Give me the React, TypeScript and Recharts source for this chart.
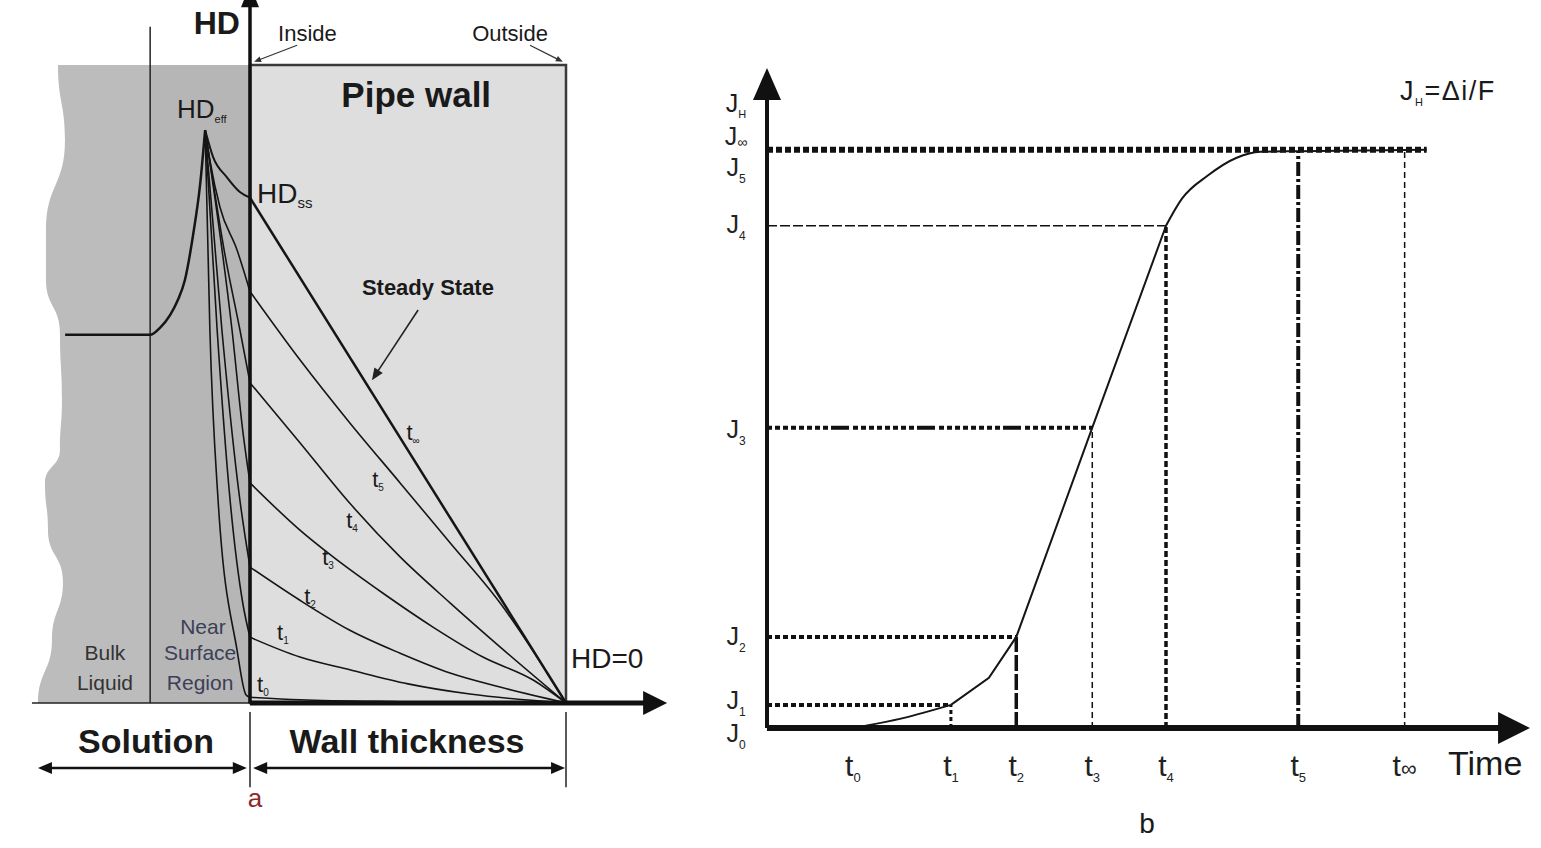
import React from 'react';
import { LineChart, Line, XAxis, YAxis, ReferenceLine, ReferenceArea, ReferenceDot } from 'recharts';

const FONT = '"Liberation Sans", Arial, Helvetica, sans-serif';

// ---------- panel a : HD profile, x = depth (0 inside, 10 outside), y = HD ----------
const bulkProfile = [
  { x: -5.85, y: 57.7 }, { x: -3.16, y: 57.7 }, { x: -2.85, y: 58.8 }, { x: -2.53, y: 60.8 },
  { x: -2.28, y: 63.2 }, { x: -2.06, y: 66.3 }, { x: -1.8, y: 73.4 }, { x: -1.58, y: 81.2 },
  { x: -1.42, y: 89.8 },
];
const steadyNear = [
  { x: -1.42, y: 89.8 }, { x: -1.17, y: 85.6 }, { x: -0.73, y: 82.4 }, { x: -0.32, y: 80.1 }, { x: 0, y: 79.2 },
];
const steadyWall = [{ x: 0, y: 79.2 }, { x: 10, y: 0 }];

const nearT0 = [{ x: -1.42, y: 89.8 }, { x: -1.27, y: 58.5 }, { x: -1.01, y: 31.8 }, { x: -0.41, y: 8.3 }, { x: -0.13, y: 1.3 }, { x: 0, y: 0.9 }];
const nearT1 = [{ x: -1.42, y: 89.8 }, { x: -1.04, y: 58.5 }, { x: -0.63, y: 31.8 }, { x: -0.22, y: 15.4 }, { x: 0, y: 10.3 }];
const nearT2 = [{ x: -1.42, y: 89.8 }, { x: -0.89, y: 58.5 }, { x: -0.32, y: 31.8 }, { x: 0, y: 21.3 }];
const nearT3 = [{ x: -1.42, y: 89.8 }, { x: -0.57, y: 58.5 }, { x: -0.22, y: 42.3 }, { x: 0, y: 34.5 }];
const nearT4 = [{ x: -1.42, y: 89.8 }, { x: -0.79, y: 70.2 }, { x: -0.32, y: 58.5 }, { x: 0, y: 50.2 }];
const nearT5 = [{ x: -1.42, y: 89.8 }, { x: -1.27, y: 85.1 }, { x: -0.95, y: 77.7 }, { x: -0.41, y: 71.0 }, { x: 0, y: 64.5 }];

const wallT0 = [{ x: 0, y: 0.9 }, { x: 1.58, y: 0.5 }, { x: 4.75, y: 0.2 }, { x: 10, y: 0 }];
const wallT1 = [{ x: 0, y: 10.3 }, { x: 1.58, y: 7.2 }, { x: 3.16, y: 5.2 }, { x: 5.0, y: 3.0 }, { x: 6.96, y: 1.4 }, { x: 10, y: 0 }];
const wallT2 = [{ x: 0, y: 21.3 }, { x: 1.58, y: 16.1 }, { x: 3.16, y: 11.4 }, { x: 4.75, y: 7.8 }, { x: 6.33, y: 4.7 }, { x: 7.91, y: 2.5 }, { x: 10, y: 0 }];
const wallT3 = [{ x: 0, y: 34.5 }, { x: 1.58, y: 27.1 }, { x: 2.63, y: 22.9 }, { x: 4.21, y: 17.2 }, { x: 5.79, y: 11.9 }, { x: 7.37, y: 7.2 }, { x: 8.96, y: 3.6 }, { x: 10, y: 0 }];
const wallT4 = [{ x: 0, y: 50.2 }, { x: 1.58, y: 40.8 }, { x: 3.16, y: 31.3 }, { x: 4.75, y: 22.9 }, { x: 6.33, y: 15.7 }, { x: 7.91, y: 8.8 }, { x: 10, y: 0 }];
const wallT5 = [{ x: 0, y: 64.5 }, { x: 1.58, y: 53.8 }, { x: 3.16, y: 43.9 }, { x: 4.75, y: 34.5 }, { x: 6.33, y: 25.1 }, { x: 7.91, y: 15.7 }, { x: 10, y: 0 }];

const nearCurves = [nearT0, nearT1, nearT2, nearT3, nearT4, nearT5];
const wallCurves = [wallT0, wallT1, wallT2, wallT3, wallT4, wallT5];

const profileLabels = ['∞', '5', '4', '3', '2', '1', '0'];
const profileLabelPos = [
  { x: 5.16, y: 41.2 }, { x: 4.05, y: 33.9 }, { x: 3.23, y: 27.4 }, { x: 2.47, y: 21.6 },
  { x: 1.9, y: 15.5 }, { x: 1.04, y: 9.9 }, { x: 0.41, y: 1.7 },
];

// ---------- panel b : permeation flux vs time ----------
const timeNames = ['0', '1', '2', '3', '4', '5', '∞'];
const timeTicks = [11.3, 24.2, 32.8, 42.8, 52.5, 69.9, 83.9];
const fluxNames = ['0', '1', '2', '3', '4', '5', '∞'];
const fluxLevels = [0, 3.5, 13.8, 45.5, 76.1, 87.4, 87.6];
// start of the transient (t0 -> t1)
const fluxOnset = [{ t: 11.3, j: 0 }, { t: 17.9, j: 1.5 }, { t: 24.2, j: 3.5 }];
// near-linear rise (t1 -> t4)
const fluxRamp = [{ t: 24.2, j: 3.5 }, { t: 29.2, j: 7.6 }, { t: 32.8, j: 13.8 }, { t: 42.8, j: 45.5 }, { t: 52.5, j: 76.1 }];
// approach to steady state (t4 -> end)
const fluxPlateau = [
  { t: 52.5, j: 76.1 }, { t: 54.6, j: 80.2 }, { t: 58.0, j: 83.7 }, { t: 61.8, j: 86.4 },
  { t: 64.9, j: 87.3 }, { t: 69.9, j: 87.4 }, { t: 86.8, j: 87.6 },
];
const curveEnd = 86.8;

// guide line styles (index matches timeTicks / fluxLevels)
const hGuide = [null,
  { w: 4, d: '5 3' }, { w: 4, d: '5 3' }, { w: 4, d: '5 3 5 3 5 3 5 3 5 3 5 3 5 3 5 3 18 4' },
  { w: 1.5, d: '10 3' }, null, { w: 6, d: '6 3' }];
const vGuide = [null,
  { w: 3, d: '4 3' }, { w: 3.5, d: '16 3' }, { w: 1.5, d: '6 4' },
  { w: 3.5, d: '6 3' }, { w: 4, d: '14 3 3 3' }, { w: 1.5, d: '6 4' }];
const fluxLabelShift = [14, 4, 8, 10, 7, 25, -5];

// ---------- helpers ----------
const arrowShape = (len: number, half: number, both = false) => (p: any) => {
  const { x1, y1, x2, y2, stroke, strokeWidth } = p;
  const dx = x2 - x1, dy = y2 - y1;
  const L = Math.hypot(dx, dy) || 1;
  const ux = dx / L, uy = dy / L, nx = -uy, ny = ux;
  const head = (tx: number, ty: number, dir: number) => {
    const bx = tx - dir * ux * len, by = ty - dir * uy * len;
    return `${tx},${ty} ${bx + nx * half},${by + ny * half} ${bx - nx * half},${by - ny * half}`;
  };
  const sx = both ? x1 + ux * len * 0.7 : x1, sy = both ? y1 + uy * len * 0.7 : y1;
  return (
    <g>
      <line x1={sx} y1={sy} x2={x2 - ux * len * 0.7} y2={y2 - uy * len * 0.7} stroke={stroke} strokeWidth={strokeWidth} />
      <polygon points={head(x2, y2, 1)} fill={stroke} />
      {both && <polygon points={head(x1, y1, -1)} fill={stroke} />}
    </g>
  );
};

const note = (key: string, x: number, y: number, content: React.ReactNode, opts: any = {}) => (
  <ReferenceDot
    key={key}
    x={x}
    y={y}
    r={0}
    ifOverflow="visible"
    shape={(p: any) => (
      <text x={p.cx} y={p.cy} textAnchor={opts.anchor || 'start'} fontFamily={FONT}
        fontSize={opts.size || 22} fontWeight={opts.bold ? 'bold' : 'normal'} fill={opts.fill || '#1a1a1a'}
        letterSpacing={opts.spacing || 0}>
        {content}
      </text>
    )}
  />
);

const sub = (main: string, s: string, size: number, dy: number) => (
  <>
    <tspan>{main}</tspan>
    <tspan fontSize={size} dy={dy}>{s}</tspan>
  </>
);

const edgeWave = [[0, 26], [0.118, 33], [0.259, 14], [0.337, 14], [0.42, 28], [0.525, 30], [0.603, 28],
  [0.655, 13], [0.729, 16], [0.81, 31], [0.901, 20], [1, 6]];

const WavyRect = (p: any) => {
  const { x, y, width, height, fill } = p;
  const pts = edgeWave.map(([f, o]) => [x + o, y + f * height]);
  let d = `M${x + width},${y} L${pts[0][0]},${pts[0][1]}`;
  for (let i = 1; i < pts.length; i++) {
    const [px, py] = pts[i - 1];
    const [cx, cy] = pts[i];
    const my = (py + cy) / 2;
    d += ` C${px},${my} ${cx},${my} ${cx},${cy}`;
  }
  d += ` L${x + width},${y + height} Z`;
  return <path d={d} fill={fill} />;
};

const JTick = (p: any) => {
  const i = fluxLevels.indexOf(p.payload.value);
  return (
    <text x={p.x - 31} y={p.y + fluxLabelShift[i]} textAnchor="middle" fontFamily={FONT} fontSize={25} fill="#222">
      J<tspan fontSize={i === 6 ? 14 : 12} dy={i === 6 ? 2 : 7}>{fluxNames[i]}</tspan>
    </text>
  );
};

const TTick = (p: any) => {
  const i = timeTicks.indexOf(p.payload.value);
  return (
    <text x={p.x} y={p.y + 48} textAnchor="middle" fontFamily={FONT} fontSize={30} fill="#222">
      t<tspan fontSize={i === 6 ? 22 : 13} dy={i === 6 ? 0 : 6}>{timeNames[i]}</tspan>
    </text>
  );
};

const lineProps = { dataKey: 'y', type: 'monotone' as const, stroke: '#151515', dot: false, isAnimationActive: false };
const fluxProps = { dataKey: 'j', stroke: '#151515', strokeWidth: 2, dot: false, isAnimationActive: false };

function ProfilePanel() {
  return (
    <LineChart width={700} height={848} margin={{ top: 1.2, right: 23.4, bottom: 145, left: 28.8 }}>
      <XAxis type="number" dataKey="x" domain={[-7, 13.5]} hide height={0} allowDataOverflow />
      <YAxis type="number" domain={[0, 110]} hide width={0} allowDataOverflow />

      <ReferenceArea x1={-6.9} x2={-3.16} y1={0} y2={100} fill="#bcbcbc" fillOpacity={1} shape={WavyRect} ifOverflow="visible" />
      <ReferenceArea x1={-3.16} x2={0} y1={0} y2={100} fill="#b6b6b6" fillOpacity={1} ifOverflow="visible" />
      <ReferenceArea x1={0} x2={10} y1={0} y2={100} fill="#dedede" fillOpacity={1} stroke="#3a3a3a" strokeWidth={2.5} ifOverflow="visible" />

      <ReferenceLine segment={[{ x: -3.16, y: 0 }, { x: -3.16, y: 106 }]} stroke="#222" strokeWidth={1.5} ifOverflow="visible" />
      <ReferenceLine segment={[{ x: -6.9, y: 0 }, { x: 0, y: 0 }]} stroke="#222" strokeWidth={1.5} ifOverflow="visible" />

      <Line data={bulkProfile} {...lineProps} strokeWidth={2.5} />
      <Line data={steadyNear} {...lineProps} strokeWidth={2} />
      <Line data={steadyWall} {...lineProps} type="linear" strokeWidth={2.5} />
      {nearCurves.map((c, i) => <Line key={'n' + i} data={c} {...lineProps} strokeWidth={1.6} />)}
      {wallCurves.map((c, i) => <Line key={'w' + i} data={c} {...lineProps} strokeWidth={1.6} />)}

      <ReferenceLine segment={[{ x: 0, y: 0 }, { x: 13.2, y: 0 }]} stroke="#111" strokeWidth={5} shape={arrowShape(24, 12)} ifOverflow="visible" />
      <ReferenceLine segment={[{ x: 0, y: 0 }, { x: 0, y: 112.5 }]} stroke="#111" strokeWidth={3.5} shape={arrowShape(22, 9)} ifOverflow="visible" />
      <ReferenceLine segment={[{ x: 1.49, y: 103.1 }, { x: 0.13, y: 100.5 }]} stroke="#333" strokeWidth={1.2} shape={arrowShape(7, 3)} ifOverflow="visible" />
      <ReferenceLine segment={[{ x: 8.86, y: 103.1 }, { x: 9.9, y: 100.5 }]} stroke="#333" strokeWidth={1.2} shape={arrowShape(7, 3)} ifOverflow="visible" />
      <ReferenceLine segment={[{ x: 5.32, y: 61.6 }, { x: 3.86, y: 50.6 }]} stroke="#222" strokeWidth={1.6} shape={arrowShape(12, 5)} ifOverflow="visible" />
      <ReferenceLine segment={[{ x: -6.71, y: -10.2 }, { x: -0.1, y: -10.2 }]} stroke="#111" strokeWidth={2.5} shape={arrowShape(14, 6, true)} ifOverflow="visible" />
      <ReferenceLine segment={[{ x: 0.1, y: -10.2 }, { x: 9.97, y: -10.2 }]} stroke="#111" strokeWidth={2.5} shape={arrowShape(14, 6, true)} ifOverflow="visible" />
      <ReferenceLine segment={[{ x: 0, y: -1.4 }, { x: 0, y: -13.2 }]} stroke="#222" strokeWidth={1.5} ifOverflow="visible" />
      <ReferenceLine segment={[{ x: 10, y: -1.4 }, { x: 10, y: -13.2 }]} stroke="#222" strokeWidth={1.5} ifOverflow="visible" />

      {note('hd', -0.32, 104.9, 'HD', { anchor: 'end', size: 32, bold: true })}
      {note('in', 0.89, 103.8, 'Inside', { size: 22 })}
      {note('out', 7.03, 103.8, 'Outside', { size: 22 })}
      {note('pw', 5.26, 93.4, 'Pipe wall', { anchor: 'middle', size: 35, bold: true })}
      {note('eff', -2.31, 91.7, sub('HD', 'eff', 11, 5), { size: 26 })}
      {note('ss', 0.22, 78.4, sub('HD', 'ss', 15, 5), { size: 28 })}
      {note('st', 5.63, 64.0, 'Steady State', { anchor: 'middle', size: 22, bold: true })}
      {profileLabels.map((l, i) => note('pl' + i, profileLabelPos[i].x, profileLabelPos[i].y,
        sub('t', l, 10, 4), { anchor: 'middle', size: 22 }))}
      {note('b1', -4.59, 6.74, 'Bulk', { anchor: 'middle', size: 21, fill: '#333' })}
      {note('b2', -4.59, 2.04, 'Liquid', { anchor: 'middle', size: 21, fill: '#333' })}
      {note('n1', -1.49, 10.8, 'Near', { anchor: 'middle', size: 21, fill: '#3b4056' })}
      {note('n2', -1.58, 6.74, 'Surface', { anchor: 'middle', size: 21, fill: '#3b4056' })}
      {note('n3', -1.58, 2.04, 'Region', { anchor: 'middle', size: 21, fill: '#3b4056' })}
      {note('hd0', 10.16, 5.5, 'HD=0', { size: 28 })}
      {note('sol', -3.29, -7.84, 'Solution', { anchor: 'middle', size: 34, bold: true })}
      {note('wt', 4.97, -7.84, 'Wall thickness', { anchor: 'middle', size: 34, bold: true })}
      {note('a', 0.16, -16.3, 'a', { anchor: 'middle', size: 26, fill: '#8b2a2a' })}
    </LineChart>
  );
}

function FluxPanel() {
  return (
    <LineChart width={841} height={848} margin={{ top: 68, right: 14, bottom: 60, left: 7 }}>
      <XAxis type="number" dataKey="t" domain={[0, 100]} ticks={timeTicks} interval={0} height={60}
        axisLine={false} tickLine={false} tickSize={0} tickMargin={0} tick={TTick} allowDataOverflow />
      <YAxis type="number" domain={[0, 100]} ticks={fluxLevels} interval={0} width={60}
        axisLine={false} tickLine={false} tickSize={0} tickMargin={0} tick={JTick} allowDataOverflow />

      {fluxLevels.map((j, i) => hGuide[i] && (
        <ReferenceLine key={'h' + i} segment={[{ x: 0, y: j }, { x: i === 6 ? curveEnd : timeTicks[i], y: j }]}
          stroke="#111" strokeWidth={hGuide[i].w} strokeDasharray={hGuide[i].d} ifOverflow="visible" />
      ))}
      {timeTicks.map((t, i) => vGuide[i] && (
        <ReferenceLine key={'v' + i} segment={[{ x: t, y: 0 }, { x: t, y: fluxLevels[i] }]}
          stroke="#111" strokeWidth={vGuide[i].w} strokeDasharray={vGuide[i].d} ifOverflow="visible" />
      ))}

      <Line data={fluxOnset} type="monotone" {...fluxProps} />
      <Line data={fluxRamp} type="linear" {...fluxProps} />
      <Line data={fluxPlateau} type="monotone" {...fluxProps} />

      <ReferenceLine segment={[{ x: 0, y: 0 }, { x: 100.4, y: 0 }]} stroke="#111" strokeWidth={6} shape={arrowShape(32, 16)} ifOverflow="visible" />
      <ReferenceLine segment={[{ x: 0, y: 0 }, { x: 0, y: 100 }]} stroke="#111" strokeWidth={4} shape={arrowShape(32, 14)} ifOverflow="visible" />

      {note('jh', -4.08, 93.3, sub('J', 'H', 11, 6), { anchor: 'middle', size: 25 })}
      {note('eq', 83.3, 95.2, <><tspan>J</tspan><tspan fontSize={11} dy={6}>H</tspan><tspan dy={-6}>=Δi/F</tspan></>, { size: 27, spacing: 1.5 })}
      {note('time', 94.5, -7.1, 'Time', { anchor: 'middle', size: 34 })}
      {note('b', 50.0, -15.9, 'b', { anchor: 'middle', size: 28 })}
    </LineChart>
  );
}

export default function App() {
  return (
    <div style={{ position: 'absolute', left: 0, top: 0, width: 1541, height: 848, background: '#fff', overflow: 'hidden' }}>
      <div style={{ position: 'absolute', left: 0, top: 0 }}>
        <ProfilePanel />
      </div>
      <div style={{ position: 'absolute', left: 700, top: 0 }}>
        <FluxPanel />
      </div>
    </div>
  );
}
